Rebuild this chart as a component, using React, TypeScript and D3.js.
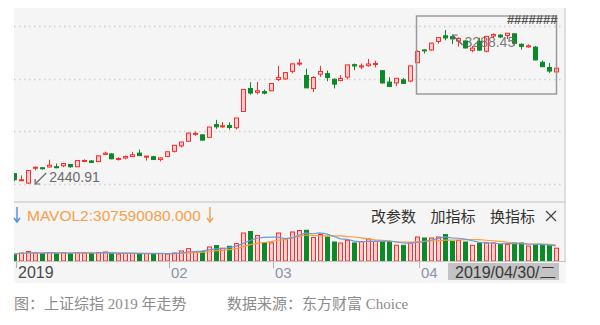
import React from 'react';
import * as d3 from 'd3';

// 上证综指 2019-01-02 .. 2019-04-30 daily candles
const dates = [
  '01-02', '01-03', '01-04', '01-07', '01-08', '01-09', '01-10', '01-11', '01-14', '01-15', '01-16',
  '01-17', '01-18', '01-21', '01-22', '01-23', '01-24', '01-25', '01-28', '01-29', '01-30', '01-31',
  '02-01', '02-11', '02-12', '02-13', '02-14', '02-15', '02-18', '02-19', '02-20', '02-21', '02-22',
  '02-25', '02-26', '02-27', '02-28',
  '03-01', '03-04', '03-05', '03-06', '03-07', '03-08', '03-11', '03-12', '03-13', '03-14', '03-15',
  '03-18', '03-19', '03-20', '03-21', '03-22', '03-25', '03-26', '03-27', '03-28', '03-29',
  '04-01', '04-02', '04-03', '04-04', '04-08', '04-09', '04-10', '04-11', '04-12', '04-15', '04-16',
  '04-17', '04-18', '04-19', '04-22', '04-23', '04-24', '04-25', '04-26', '04-29', '04-30',
];

const opens = [
  2497.88, 2461.78, 2446.02, 2528.7, 2530.3, 2534.64, 2536.01, 2540.97, 2548.09, 2535.7, 2568.43,
  2567.75, 2564.12, 2603.94, 2606.47, 2578.76, 2584.16, 2591.52, 2610.84, 2593.89, 2590.98, 2575.47,
  2592.61, 2620.79, 2650.52, 2676.09, 2716.95, 2711.2, 2697.82, 2767.9, 2757.5, 2762.44, 2750.56,
  2839.89, 2966.63, 2945.47, 2949.4,
  2954.05, 3015.94, 3019.1, 3060.77, 3106.13, 3038.28, 2965.99, 3045.32, 3048.25, 3017.21, 3010.19,
  3029.04, 3097.65, 3085.06, 3091.95, 3102.15, 3064.36, 3002.08, 2997.04, 3014.27, 3007.79,
  3108.57, 3178.9, 3178.47, 3225.38, 3256.59, 3252.18, 3227.31, 3228.12, 3176.43, 3226.13, 3171.33,
  3255.26, 3260.42, 3258.67, 3267.58, 3209.69, 3195.5, 3194.2, 3110.68, 3081.9, 3057.67,
];

const highs = [
  2500.28, 2488.48, 2515.32, 2536.98, 2531.35, 2574.41, 2553.84, 2555.18, 2548.09, 2573.21, 2576.45,
  2571.98, 2598.88, 2618.98, 2608.76, 2588.85, 2597.43, 2618.2, 2630.3, 2596.29, 2596.46, 2588.48,
  2618.34, 2656.05, 2672.14, 2723.39, 2728.83, 2715.45, 2754.42, 2794.07, 2781.79, 2780.64, 2804.32,
  2961.29, 3000.96, 3002.48, 2960.09,
  2996.43, 3090.8, 3054.25, 3103.84, 3129.94, 3075.47, 3034.21, 3090.99, 3065.54, 3021.65, 3040.52,
  3096.42, 3103.81, 3104.58, 3129.46, 3119.53, 3067.59, 3028.67, 3023.49, 3024.49, 3091.62,
  3176.64, 3182.0, 3217.44, 3250.16, 3288.45, 3253.78, 3248.1, 3232.49, 3200.0, 3245.71, 3254.03,
  3270.05, 3266.06, 3270.85, 3267.58, 3214.94, 3209.8, 3200.22, 3120.78, 3106.45, 3088.41,
];

const lows = [
  2456.42, 2455.93, 2440.91, 2515.51, 2520.16, 2530.69, 2527.38, 2533.58, 2530.52, 2534.68, 2561.96,
  2556.42, 2561.89, 2600.3, 2577.02, 2570.39, 2576.2, 2591.52, 2595.14, 2569.53, 2575.47, 2565.53,
  2592.61, 2614.3, 2641.9, 2673.39, 2706.49, 2680.31, 2697.82, 2744.38, 2748.93, 2740.21, 2741.28,
  2839.89, 2932.61, 2934.29, 2934.06,
  2951.82, 3006.92, 3014.65, 3050.38, 3090.5, 2969.86, 2947.72, 3030.42, 3006.43, 2966.72, 3006.27,
  3016.82, 3067.21, 3072.82, 3087.08, 3082.66, 2992.81, 2977.33, 2979.39, 2991.37, 3001.45,
  3108.57, 3158.99, 3173.92, 3213.97, 3231.73, 3211.22, 3196.52, 3185.79, 3165.83, 3174.0, 3165.35,
  3244.5, 3243.75, 3238.76, 3203.43, 3180.7, 3191.11, 3121.72, 3086.4, 3052.12, 3050.17,
];

const closes = [
  2465.29, 2464.36, 2514.87, 2533.09, 2526.46, 2544.34, 2535.1, 2553.83, 2535.77, 2570.34, 2570.42,
  2559.64, 2596.01, 2610.51, 2579.7, 2581.0, 2591.69, 2601.72, 2596.98, 2594.25, 2575.58, 2584.57,
  2618.23, 2653.9, 2671.89, 2721.07, 2719.7, 2682.39, 2754.36, 2755.65, 2761.22, 2751.8, 2804.23,
  2961.28, 2941.52, 2953.82, 2940.95,
  2994.01, 3027.58, 3054.25, 3102.1, 3106.42, 2969.86, 3026.99, 3060.31, 3026.95, 2990.69, 3021.75,
  3096.42, 3090.64, 3090.98, 3101.46, 3104.15, 2997.1, 2977.33, 3022.72, 2994.94, 3090.76,
  3170.36, 3176.82, 3216.3, 3246.57, 3244.81, 3239.66, 3241.93, 3189.96, 3188.63, 3177.79, 3253.6,
  3263.12, 3250.2, 3270.8, 3215.04, 3198.59, 3201.61, 3123.83, 3086.4, 3062.5, 3078.34,
];

// volume, millions (手)
const volumes = [
  131, 150, 178, 150, 141, 159, 141, 159, 141, 159, 150,
  141, 159, 169, 141, 131, 141, 141, 141, 141, 131, 141,
  131, 150, 188, 233, 178, 178, 263, 289, 240, 276, 326,
  525, 553, 478, 341,
  341, 525, 420, 544, 572, 576, 441, 497, 450, 356, 338,
  388, 338, 366, 413, 366, 366, 366, 294, 294, 338,
  450, 431, 431, 450, 495, 369, 388, 356, 294, 338, 338,
  338, 308, 308, 338, 338, 280, 308, 294, 294, 240,
];

const gridPrices = [2440, 2731, 3020, 3311];
const tickDates = ['01-02', '02-01', '03-01', '04-01'];
const tickLabels = ['2019', '02', '03', '04'];
const lastDateLabel = '2019/04/30/二';
const mavolLabel = 'MAVOL2:307590080.000';
const toolLabels = ['改参数', '加指标', '换指标'];

const RED = '#ff2b2b';
const RED_FILL = '#ffcfcf';
const GREEN = '#0c8a28';
const SANS = "'Liberation Sans', Arial, sans-serif";
const CJK = "'Noto Sans CJK SC', sans-serif";
const CAPTION = "'Liberation Serif', 'Noto Sans CJK SC', serif";

// small down arrow used in the volume header
function DownArrow({ x, color }: { x: number; color: string }) {
  return (
    <g stroke={color} strokeWidth={1.4} fill="none">
      <line x1={x} x2={x} y1={207} y2={222} />
      <polyline points={`${x - 3},${218} ${x},${222} ${x + 3},${218}`} />
    </g>
  );
}

export default function App() {
  const n = closes.length;
  const left = 14;
  const right = 566;

  const x = d3.scaleLinear().domain([0, n - 1]).range([14.3, 555.6]);
  const px = (i: number) => Math.round(x(i)) + 0.5;
  const yP = d3
    .scaleLinear()
    .domain([d3.min(lows) as number, d3.max(highs) as number])
    .range([184, 30]);
  const yV = d3.scaleLinear().domain([0, 1050]).range([261, 205]);

  const ma = (k: number) =>
    volumes.map((_, i) => d3.mean(volumes.slice(Math.max(0, i - k + 1), i + 1)) as number);
  const ma5 = ma(5);
  const ma10 = ma(10);
  const line = d3
    .line<number>()
    .x((_, i) => x(i))
    .y((d) => yV(d));

  const lowIdx = d3.minIndex(lows);
  const highIdx = d3.maxIndex(highs);
  const lowX = x(lowIdx);
  const lowY = yP(lows[lowIdx]);
  const highX = x(highIdx);
  const highY = yP(highs[highIdx]);

  // zoom box over April
  const boxStart = dates.indexOf('04-01');
  const bx0 = Math.round(x(boxStart)) - 0.5;
  const bx1 = Math.round(x(n - 1)) + 0.5;

  return (
    <svg
      width={600}
      height={325}
      style={{ position: 'absolute', left: 0, top: 0, background: '#fff' }}
    >
      <defs>
        <clipPath id="plot">
          <rect x={left} y={8} width={right - left} height={275} />
        </clipPath>
      </defs>

      <rect x={left} y={8} width={right - left} height={275} fill="#f5f5f5" />

      {/* dotted grid */}
      {gridPrices.map((p) => (
        <line
          key={p}
          x1={left}
          x2={right - 2}
          y1={Math.round(yP(p)) + 0.5}
          y2={Math.round(yP(p)) + 0.5}
          stroke="#d0d0d0"
          strokeWidth={1.5}
          strokeDasharray="1.5,3.5"
        />
      ))}

      <g clipPath="url(#plot)">
        {closes.map((c, i) => {
          const o = opens[i];
          const up = c >= o;
          const cx = px(i);
          const top = yP(Math.max(o, c));
          const bot = yP(Math.min(o, c));
          const col = up ? RED : GREEN;
          return (
            <g key={dates[i]}>
              <line x1={cx} x2={cx} y1={yP(highs[i])} y2={yP(lows[i])} stroke={col} />
              <rect
                x={cx - 2}
                y={top}
                width={4}
                height={Math.max(1, bot - top)}
                fill={up ? RED_FILL : GREEN}
                stroke={col}
              />
            </g>
          );
        })}

        {volumes.map((v, i) => {
          const up = closes[i] >= opens[i];
          const cx = px(i);
          return (
            <rect
              key={'v' + dates[i]}
              x={cx - 2}
              y={yV(v)}
              width={4}
              height={yV(0) - yV(v)}
              fill={up ? RED_FILL : GREEN}
              stroke={up ? RED : GREEN}
            />
          );
        })}
        <path d={line(ma10) ?? ''} fill="none" stroke="#ff9a35" strokeWidth={1.2} />
        <path d={line(ma5) ?? ''} fill="none" stroke="#6a9be0" strokeWidth={1.2} />
      </g>

      {/* selection box */}
      <rect x={bx0} y={16} width={bx1 - bx0} height={78} fill="none" stroke="#9a9a9a" strokeWidth={1.5} />
      <text x={bx1 + 1} y={24} textAnchor="end" fontFamily={SANS} fontSize={13} fontWeight="bold" fill="#555">
        #######
      </text>

      {/* high / low marks */}
      <g stroke="#6b6b6b" strokeWidth={1.2} fill="none">
        <line x1={lowX + 18} y1={lowY - 11} x2={lowX + 7} y2={lowY} />
        <polyline points={`${lowX + 7},${lowY - 5} ${lowX + 7},${lowY} ${lowX + 12},${lowY}`} />
        <line x1={highX + 18} y1={highY + 15} x2={highX + 8} y2={highY + 5} />
        <polyline points={`${highX + 8},${highY + 10} ${highX + 8},${highY + 5} ${highX + 13},${highY + 5}`} />
      </g>
      <text x={lowX + 21} y={lowY - 2} fontFamily={SANS} fontSize={14} fill="#6b6b6b">
        {lows[lowIdx].toFixed(2)}
      </text>
      <text x={highX + 20} y={highY + 16.5} fontFamily={SANS} fontSize={14} fill="#6b6b6b" fillOpacity={0.9}>
        {highs[highIdx].toFixed(2)}
      </text>

      {/* panel borders */}
      <line x1={left} x2={right} y1={202} y2={202} stroke="#d2d2d2" strokeWidth={1.5} />
      <line x1={right - 1} x2={right - 1} y1={8} y2={262} stroke="#d6d6d6" strokeWidth={1.5} />
      <line x1={left} x2={right} y1={261.5} y2={261.5} stroke="#c6c6c6" />

      {/* volume header */}
      <DownArrow x={17} color="#4a8fdc" />
      <text x={27} y={221} fontFamily={SANS} fontSize={15.5} fill="#f7a04a">{mavolLabel}</text>
      <DownArrow x={210} color="#f7a04a" />
      {toolLabels.map((t, i) => (
        <text key={t} x={371 + i * 59.5} y={221.5} fontFamily={CJK} fontSize={15} fill="#333">
          {t}
        </text>
      ))}
      <g stroke="#444" strokeWidth={1.2}>
        <line x1={546} y1={211} x2={556} y2={221} />
        <line x1={556} y1={211} x2={546} y2={221} />
      </g>

      {/* time axis */}
      {tickDates.map((d, k) => {
        const tx = px(dates.indexOf(d)) + 2;
        return (
          <g key={d}>
            <line x1={tx} x2={tx} y1={262} y2={268} stroke="#b0b0b0" />
            <text
              x={tx + 1.5}
              y={277.5}
              fontFamily={SANS}
              fontSize={k === 0 ? 16 : 15}
              fill={k === 0 ? '#4a4a4a' : '#8a94a3'}
            >
              {tickLabels[k]}
            </text>
          </g>
        );
      })}
      <rect x={448} y={263} width={111} height={17} fill="#c3c3c3" />
      <text x={455} y={277.5} fontFamily={SANS} fontSize={16} fill="#383838">
        {lastDateLabel}
      </text>

      {/* caption */}
      <text x={14} y={309} fontFamily={CAPTION} fontSize={15} fill="#8c8c8c">
        图：上证综指 2019 年走势
      </text>
      <text x={227} y={309} fontFamily={CAPTION} fontSize={15} fill="#8c8c8c">
        数据来源：东方财富 Choice
      </text>
    </svg>
  );
}
